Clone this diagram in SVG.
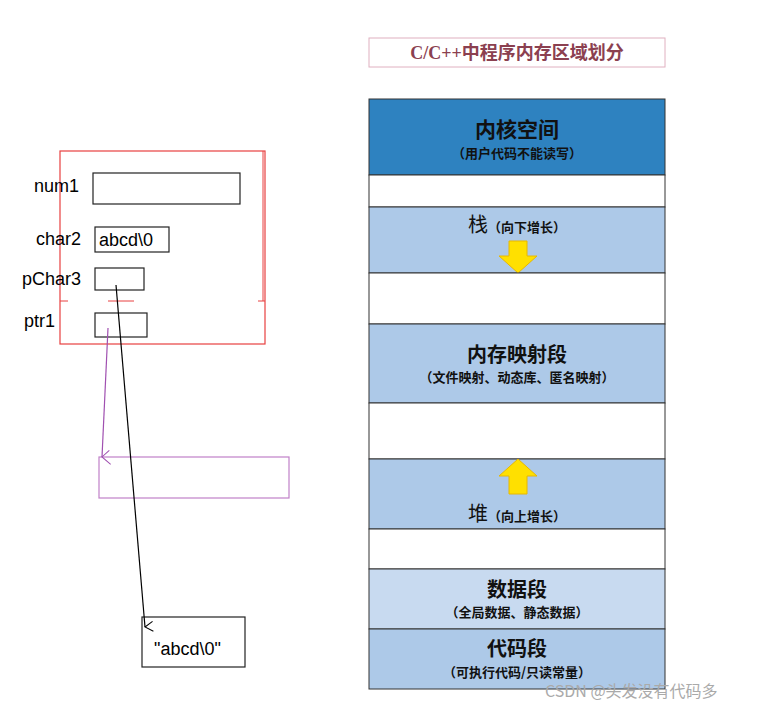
<svg xmlns="http://www.w3.org/2000/svg" width="772" height="709" viewBox="0 0 772 709">
<style>
.lbl{font-family:"Liberation Sans","Noto Sans CJK SC",sans-serif;font-size:18px;fill:#000}
.cn{font-family:"Noto Sans CJK SC",sans-serif;fill:#111;font-weight:bold;text-anchor:middle}
.box{fill:#fff;stroke:#222;stroke-width:1.2}
.seg{stroke:#333;stroke-width:1}
</style>
<defs>
<marker id="ab" markerWidth="12" markerHeight="12" refX="6" refY="11" orient="auto-start-reverse" markerUnits="userSpaceOnUse"><path d="M1,3 L6,11 L11,3" fill="none" stroke="#000" stroke-width="1"/></marker>
<marker id="ap" markerWidth="16" markerHeight="12" refX="8" refY="10" orient="auto" markerUnits="userSpaceOnUse"><path d="M1,3 L8,10 L15,1" fill="none" stroke="#a050b0" stroke-width="1"/></marker>
</defs>
<rect width="772" height="709" fill="#fff"/>
<g id="frame">
<rect x="60" y="151" width="205" height="193" fill="none" stroke="#e84040" stroke-width="1.2"/>
<line x1="263" y1="151" x2="263" y2="301" stroke="#e84040"/>
<line x1="60" y1="301" x2="68" y2="301" stroke="#e84040"/>
<line x1="108" y1="301" x2="134" y2="301" stroke="#e84040"/>
<line x1="258" y1="301" x2="265" y2="301" stroke="#e84040"/>
</g>
<g id="num1"><text class="lbl" x="34" y="192">num1</text><rect class="box" x="93" y="173" width="147" height="31"/></g>
<g id="char2"><text class="lbl" x="36" y="245">char2</text><rect class="box" x="95" y="227" width="74" height="25"/><text class="lbl" x="99" y="246">abcd\0</text></g>
<g id="pChar3"><text class="lbl" x="22" y="285">pChar3</text><rect class="box" x="95" y="268" width="49" height="22"/></g>
<g id="ptr1"><text class="lbl" x="24" y="327">ptr1</text><rect class="box" x="95" y="313" width="52" height="24"/></g>
<g id="heapbox"><rect x="99" y="457" width="190" height="41" fill="none" stroke="#c080c8" stroke-width="1.2"/></g>
<g id="str"><rect class="box" x="142" y="617" width="103" height="50"/><text class="lbl" x="154" y="655">"abcd\0"</text></g>
<g id="connectors">
<line x1="116" y1="285" x2="145" y2="627" stroke="#000" stroke-width="1.2" marker-end="url(#ab)"/>
<line x1="108" y1="328" x2="102" y2="457" stroke="#a050b0" stroke-width="1.2" marker-end="url(#ap)"/>
</g>
<g id="title"><rect x="369" y="38" width="296" height="29" fill="#fff" stroke="#e0b0c0"/><text x="517" y="59" font-family="Liberation Serif,'Noto Sans CJK SC',serif" font-size="18" font-weight="bold" fill="#8b4050" text-anchor="middle">C/C++中程序内存区域划分</text></g>
<g id="kernel"><rect class="seg" x="369" y="99" width="296" height="76" fill="#2e82c0"/><text class="cn" x="517" y="137" font-size="21" font-weight="normal">内核空间</text><text class="cn" x="517" y="158" font-size="13">（用户代码不能读写）</text></g>
<rect class="seg" x="369" y="175" width="296" height="32" fill="#fff"/>
<g id="stack"><rect class="seg" x="369" y="207" width="296" height="66" fill="#adc9e8"/><text class="cn" x="517" y="232"><tspan font-size="20" font-weight="normal">栈</tspan><tspan font-size="13">（向下增长）</tspan></text><path d="M509,241 H527 V256 H537 L518,273 L499,256 H509 Z" fill="#ffe000" stroke="#e8b800"/></g>
<rect class="seg" x="369" y="273" width="296" height="51" fill="#fff"/>
<g id="mmap"><rect class="seg" x="369" y="324" width="296" height="79" fill="#adc9e8"/><text class="cn" x="517" y="362" font-size="20" font-weight="normal">内存映射段</text><text class="cn" x="517" y="382" font-size="13">（文件映射、动态库、匿名映射）</text></g>
<rect class="seg" x="369" y="403" width="296" height="56" fill="#fff"/>
<g id="heap"><rect class="seg" x="369" y="459" width="296" height="70" fill="#adc9e8"/><path d="M518,459 L537,476 H527 V494 H509 V476 H499 Z" fill="#ffe000" stroke="#e8b800"/><text class="cn" x="517" y="521"><tspan font-size="20" font-weight="normal">堆</tspan><tspan font-size="13">（向上增长）</tspan></text></g>
<rect class="seg" x="369" y="529" width="296" height="40" fill="#fff"/>
<g id="data"><rect class="seg" x="369" y="569" width="296" height="60" fill="#c8daf0"/><text class="cn" x="517" y="597" font-size="20" font-weight="normal">数据段</text><text class="cn" x="517" y="617" font-size="13">（全局数据、静态数据）</text></g>
<g id="code"><rect class="seg" x="369" y="629" width="296" height="60" fill="#adc9e8"/><text class="cn" x="517" y="656" font-size="20" font-weight="normal">代码段</text><text class="cn" x="517" y="677" font-size="13">（可执行代码/只读常量）</text></g>
<text x="545" y="697" font-family="'Noto Sans CJK SC',sans-serif" font-size="16" fill="#aaa">CSDN @头发没有代码多</text>
</svg>
